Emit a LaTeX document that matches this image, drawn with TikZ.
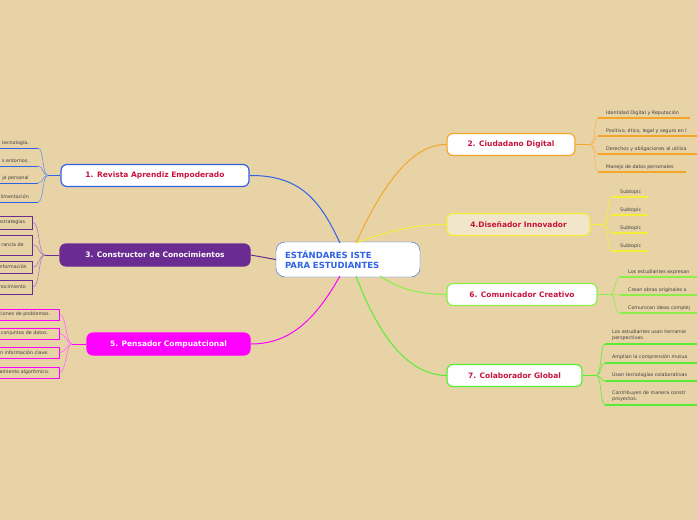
\documentclass[tikz,border=0pt]{standalone}
\usepackage{fontspec}
\setmainfont{DejaVu Sans}
\begin{document}
\begin{tikzpicture}[x=1pt,y=-1pt,
  mainbox/.style={rounded corners=6pt,line width=1.2pt,minimum height=22pt,font=\fontsize{7.5}{9}\selectfont\bfseries,text=crimson},
  kid/.style={font=\fontsize{4.8}{6}\selectfont,text=black!75,inner sep=1pt},
  kidbox/.style={kid,draw,line width=1pt,fill=bg,minimum height=11pt,inner sep=2pt}]
\definecolor{bg}{HTML}{E8D3A7}
\definecolor{crimson}{HTML}{C8143C}
\definecolor{cblue}{HTML}{2F62E6}
\definecolor{corange}{HTML}{F5A52A}
\definecolor{cyellow}{HTML}{F2EE3A}
\definecolor{cgreenA}{HTML}{8CEE48}
\definecolor{cgreenB}{HTML}{55EE33}
\definecolor{cpurple}{HTML}{6A2C91}
\definecolor{cmag}{HTML}{FF00FF}
\fill[bg] (0,0) rectangle (697,520);
\useasboundingbox (0,0) rectangle (697,520);
\clip (0,0) rectangle (697,520);
% central
\node[draw=cblue,fill=white,rounded corners=9pt,minimum width=144pt,minimum height=35pt,text width=126pt,align=left,font=\fontsize{8.5}{10}\selectfont\bfseries,text=cblue] (c) at (348,259.5) {ESTÁNDARES ISTE\\PARA ESTUDIANTES};
% main nodes
\node[mainbox,draw=cblue,fill=white,minimum width=188pt] (n1) at (155,175.5) {1. Revista Aprendiz Empoderado};
\node[mainbox,draw=cpurple,fill=cpurple,text=white,minimum width=190pt] (n3) at (155,255) {3. Constructor de Conocimientos};
\node[mainbox,draw=cmag,fill=cmag,text=white,minimum width=163pt] (n5) at (168.5,344) {5. Pensador Compuatcional};
\node[mainbox,draw=corange,fill=white,minimum width=128pt] (n2) at (511,144.5) {2. Ciudadano Digital};
\node[mainbox,draw=cyellow,fill=bg!60!white,minimum width=143pt] (n4) at (518.5,224.5) {4.Diseñador Innovador};
\node[mainbox,draw=cgreenA,fill=white,minimum width=150pt] (n6) at (522,294.5) {6. Comunicador Creativo};
\node[mainbox,draw=cgreenB,fill=white,minimum width=135pt] (n7) at (514.5,375.5) {7. Colaborador Global};
% main connectors
\coordinate (cl) at (340,243); \coordinate (cr) at (356,243);
\draw[cblue,line width=1pt] (cl) .. controls (320,200) and (300,175) .. (n1.east);
\draw[cpurple,line width=1pt] (c.west) -- (n3.east);
\draw[cmag,line width=1pt] (340,276) .. controls (315,320) and (290,344) .. (n5.east);
\draw[corange,line width=1pt] (cr) .. controls (380,190) and (410,144) .. (n2.west);
\draw[cyellow,line width=1pt] (cr) .. controls (390,230) and (420,224) .. (n4.west);
\draw[cgreenA,line width=1pt] (380,276) .. controls (400,290) and (420,294) .. (n6.west);
\draw[cgreenB,line width=1pt] (356,276) .. controls (380,340) and (410,375) .. (n7.west);
% group 1
\coordinate (b1) at (48,175.5);
\draw[cblue,line width=.7pt] (n1.west) -- (b1);
\foreach \y/\t in {142/tecnología.,160/s entornos.,177/je personal,196/limentación}{
  \node[kid,anchor=base east] at (30,\y+2) {\t};
  \draw[cblue,line width=1pt] (0,\y+6) -- (38,\y+6);
  \draw[cblue!70,line width=.6pt] (b1) .. controls (42,175.5) and (44,\y+6) .. (38,\y+6);}
% group 3
\coordinate (b3) at (45,255);
\draw[cpurple,line width=.7pt] (n3.west) -- (b3);
\foreach \y/\h/\t in {222.5/13/estrategias.,245/20/rancia de,267/12/información,287/14/nocimiento}{
  \node[kidbox,draw=cpurple,anchor=east,minimum height=\h pt,minimum width=40pt,align=right] (k) at (33,\y) {\t};
  \draw[cpurple!60,line width=.6pt] (b3) .. controls (38,255) and (40,\y) .. (k.east);}
% group 5
\coordinate (b5) at (72,344);
\draw[cmag,line width=.7pt] (n5.west) -- (b5);
\foreach \y/\t in {314.5/ciones de problemas.,333.5/conjuntos de datos.,352.5/n información clave.,372.5/amiento algorítmico.}{
  \node[kidbox,draw=cmag,anchor=east,minimum width=70pt,align=right] (k) at (60,\y) {\t};
  \draw[cmag!60,line width=.6pt] (b5) .. controls (66,344) and (66,\y) .. (k.east);}
% group 2
\coordinate (b2) at (590,144.5);
\draw[corange,line width=.7pt] (n2.east) -- (b2);
\foreach \y/\e/\t in {112/690/Identidad Digital y Reputación,130/697/{Positivo, ético, legal y seguro en l},148/697/Derechos y obligaciones al utiliza,166/686/Manejo de datos personales}{
  \node[kid,anchor=base west] at (605,\y+2) {\t};
  \draw[corange,line width=1.2pt] (598,\y+6) -- (\e,\y+6);
  \draw[corange!80,line width=.6pt] (b2) .. controls (596,144.5) and (594,\y+6) .. (598,\y+6);}
% group 4
\coordinate (b4) at (603,224.5);
\draw[cyellow,line width=.7pt] (n4.east) -- (b4);
\foreach \y in {191,209,227,245}{
  \node[kid,anchor=base west] at (619,\y+2) {Subtopic};
  \draw[cyellow,line width=1.2pt] (612,\y+6) -- (648,\y+6);
  \draw[cyellow,line width=.6pt] (b4) .. controls (609,224.5) and (607,\y+6) .. (612,\y+6);}
% group 6
\coordinate (b6) at (610,294.5);
\draw[cgreenA,line width=.7pt] (n6.east) -- (b6);
\foreach \y/\t in {271/Los estudiantes expresan,289/Crean obras originales o ,307/Comunican ideas complej}{
  \node[kid,anchor=base west] at (627,\y+2) {\t};
  \draw[cgreenA,line width=1.2pt] (620,\y+6) -- (697,\y+6);
  \draw[cgreenA,line width=.6pt] (b6) .. controls (616,294.5) and (614,\y+6) .. (620,\y+6);}
% group 7
\coordinate (b7) at (596,375.5);
\draw[cgreenB,line width=.7pt] (n7.east) -- (b7);
\node[kid,anchor=west,align=left] at (611,335) {Los estudiantes usan herramie\\perspectivas.};
\node[kid,anchor=west] at (611,357) {Amplían la comprensión mutua};
\node[kid,anchor=west] at (611,375.5) {Usan tecnologías colaborativas};
\node[kid,anchor=west,align=left] at (611,396) {Contribuyen de manera constr\\proyectos.};
\foreach \y in {344,363,381,405}{
  \draw[cgreenB,line width=1.2pt] (605,\y) -- (697,\y);
  \draw[cgreenB,line width=.6pt] (b7) .. controls (602,375.5) and (600,\y) .. (605,\y);}
\end{tikzpicture}
\end{document}
